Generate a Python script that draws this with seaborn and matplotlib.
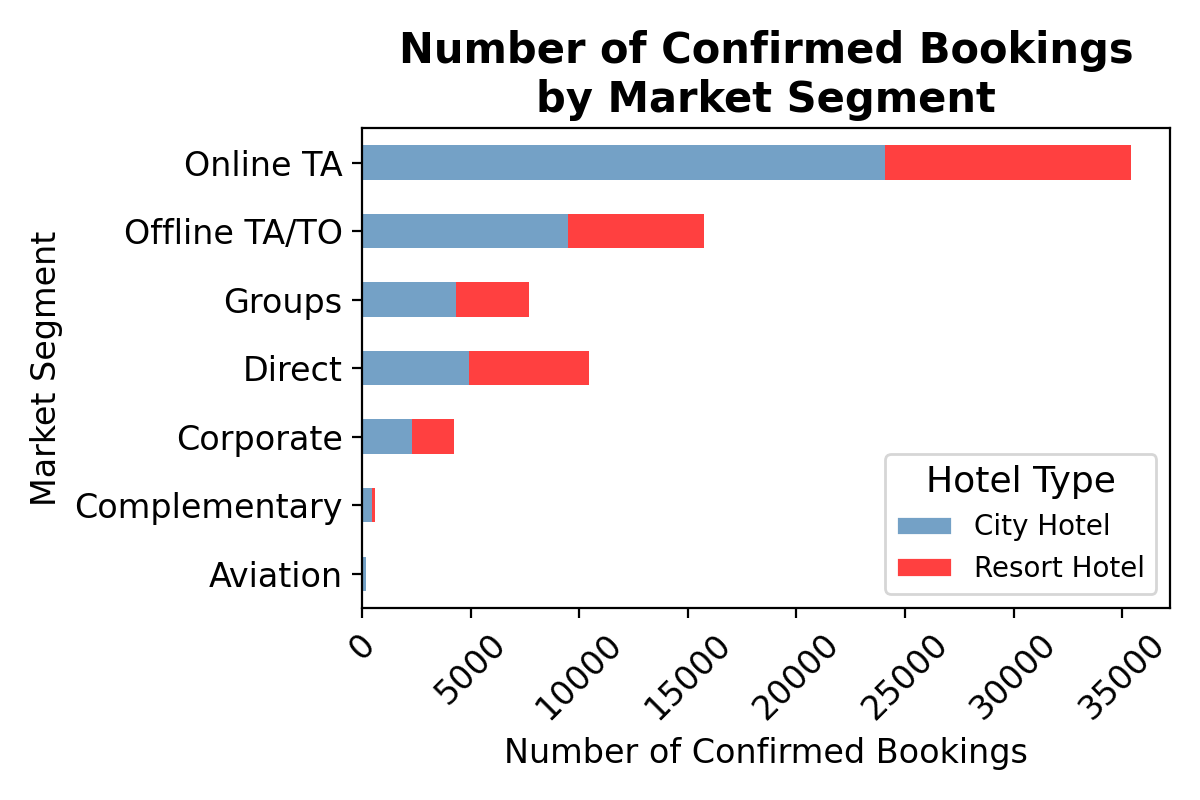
import pandas as pd
import numpy as np
import matplotlib
matplotlib.use("Agg")
import matplotlib.pyplot as plt
import seaborn as sns
from matplotlib.patches import Patch

# confirmed (non-cancelled) bookings by market segment
segments = ["Online TA", "Offline TA/TO", "Groups", "Direct",
            "Corporate", "Complementary", "Aviation"]
city_hotel = [24080, 9470, 4340, 4920, 2300, 460, 185]
resort_hotel = [11320, 6265, 3340, 5520, 1930, 140, 0]

df = pd.DataFrame({"Market Segment": segments,
                   "City Hotel": city_hotel,
                   "Resort Hotel": resort_hotel})
df["Total"] = df["City Hotel"] + df["Resort Hotel"]

# steelblue / red at alpha 0.75 on white
city_col = "#74A1C6"
resort_col = "#FF4040"

sns.set_style("white")
plt.rcParams.update({"text.color": "black", "axes.labelcolor": "black",
                     "xtick.color": "black", "ytick.color": "black"})
fig, ax = plt.subplots(figsize=(6, 4), dpi=200)

#stacked bars: total in red first, city on top of it
sns.barplot(data=df, y="Market Segment", x="Total", order=segments,
            color=resort_col, width=0.5, saturation=1, ax=ax, orient="h",
            linewidth=0)
sns.barplot(data=df, y="Market Segment", x="City Hotel", order=segments,
            color=city_col, width=0.5, saturation=1, ax=ax, orient="h",
            linewidth=0)

for s in ax.spines.values():
    s.set_visible(True)
    s.set_color("black")
    s.set_linewidth(0.8)
ax.tick_params(axis="both", which="major", length=3.5, width=0.8,
               labelsize=12, bottom=True, left=True)
ax.set_xticks(np.arange(0, 35001, 5000))
ax.set_xlim(0, 37200)
plt.setp(ax.get_xticklabels(), rotation=45)

ax.set_title("Number of Confirmed Bookings\nby Market Segment",
             fontsize=15, fontweight="bold")
ax.set_xlabel("Number of Confirmed Bookings", fontsize=12)
ax.set_ylabel("Market Segment", fontsize=12)

handles = [Patch(facecolor=city_col, label="City Hotel"),
           Patch(facecolor=resort_col, label="Resort Hotel")]
ax.legend(handles=handles, title="Hotel Type", loc="lower right",
          fontsize=10, title_fontsize=13)

plt.tight_layout()
plt.savefig("out.png", dpi=200)
